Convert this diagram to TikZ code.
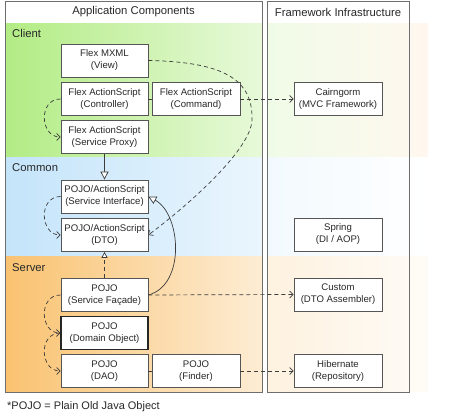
\documentclass[tikz,border=0pt]{standalone}
\usepackage{fontspec}
\setmainfont{Liberation Sans}
\usetikzlibrary{arrows.meta}
\definecolor{cgreen}{RGB}{178,236,132}
\definecolor{cblue}{RGB}{196,228,250}
\definecolor{corange}{RGB}{249,194,112}
\definecolor{boxgray}{RGB}{85,85,85}
\definecolor{panelgray}{RGB}{110,110,110}
\definecolor{txt}{RGB}{40,40,40}
\definecolor{linec}{RGB}{60,60,60}
\begin{document}
\begin{tikzpicture}[x=1pt,y=-1pt,
  box/.style={draw=boxgray, fill=white, line width=0.7pt, minimum width=87pt, minimum height=33pt,
    inner sep=0pt, align=center, font=\fontsize{9.6}{12}\selectfont, text=txt},
  bandlabel/.style={anchor=west, font=\fontsize{11.3}{13}\selectfont, text=txt, inner sep=0pt},
  header/.style={font=\fontsize{11.3}{13}\selectfont, text=txt, inner sep=0pt},
  dep/.style={draw=linec, line width=0.7pt, dash pattern=on 4pt off 3pt, -{Straight Barb[length=3.5pt,width=7pt]}},
  real/.style={draw=linec, line width=0.7pt, -{Triangle[open,length=8pt,width=8pt,fill=white]}},
  realdash/.style={draw=linec, line width=0.7pt, dash pattern=on 4pt off 3pt, -{Triangle[open,length=6pt,width=6pt,fill=white]}},
  link/.style={draw=linec, line width=0.7pt}]
\useasboundingbox (0,0) rectangle (474,419);
% bands: left panel part
\shade[left color=cgreen, right color=cgreen!30!white] (5,23) rectangle (263,158);
\shade[left color=cblue, right color=cblue!35!white] (5,158) rectangle (263,257);
\shade[left color=corange, right color=corange!30!white] (5,257) rectangle (263,392);
% bands: right part
\shade[left color=cgreen!20!white, right color=orange!6!white] (266,23) rectangle (428,158);
\shade[left color=cblue!22!white, right color=white] (266,158) rectangle (428,257);
\shade[left color=corange!22!white, right color=corange!6!white] (266,257) rectangle (428,392);
\fill[white] (0,0) rectangle (474,23);
\fill[white] (262.5,0) rectangle (266.5,392);
% panels
\draw[panelgray, line width=0.8pt] (5,1) rectangle (262,392);
\draw[panelgray, line width=0.8pt] (267,1) rectangle (409,392);
\node[header] (hApp) at (133.5,12) {Application Components};
\node[header] (hFw) at (338,12) {Framework Infrastructure};
\node[bandlabel] (lClient) at (12,33) {Client};
\node[bandlabel] (lCommon) at (12,168) {Common};
\node[bandlabel] (lServer) at (12,268) {Server};
% nodes
\node[box] (view) at (104.5,60.5) {Flex MXML\\(View)};
\node[box] (ctrl) at (104.5,99) {Flex ActionScript\\(Controller)};
\node[box, minimum width=88pt] (cmd) at (196,99) {Flex ActionScript\\(Command)};
\node[box] (proxy) at (104.5,137) {Flex ActionScript\\(Service Proxy)};
\node[box] (sif) at (104.5,196.5) {POJO/ActionScript\\(Service Interface)};
\node[box] (dto) at (104.5,235) {POJO/ActionScript\\(DTO)};
\node[box] (facade) at (104.5,295) {POJO\\(Service Façade)};
\node[box, line width=1.4pt, draw=black!85] (domain) at (104.5,333) {POJO\\(Domain Object)};
\node[box] (dao) at (104.5,371) {POJO\\(DAO)};
\node[box, minimum width=88pt] (finder) at (196,371) {POJO\\(Finder)};
\node[box, minimum width=88pt] (cairn) at (338,99) {Cairngorm\\(MVC Framework)};
\node[box, minimum width=88pt] (spring) at (338,234.5) {Spring\\(DI / AOP)};
\node[box, minimum width=88pt] (custom) at (338,294.5) {Custom\\(DTO Assembler)};
\node[box, minimum width=88pt] (hib) at (338,371) {Hibernate\\(Repository)};
% connectors
\draw[link] (ctrl.east) -- (cmd.west);
\draw[link] (dao.east) -- (finder.west);
\draw[dep] (cmd.east) -- (cairn.west);
\draw[dep] (facade.east) -- (custom.west);
\draw[dep] (finder.east) -- (hib.west);
\draw[dep] (ctrl.west) .. controls (38,99) and (40,137) .. (proxy.west);
\draw[dep] (sif.west) .. controls (38,196.5) and (40,235) .. (dto.west);
\draw[dep] (facade.west) .. controls (38,295) and (40,333) .. (domain.west);
\draw[dep] (domain.west) .. controls (38,333) and (40,371) .. (dao.west);
\draw[dep] (view.east) .. controls (225,62) and (253,80) .. (252,120) .. controls (251,148) and (195,200) .. (dto.east);
\draw[real] (proxy.south) -- (sif.north);
\draw[realdash] (facade.north) -- (dto.south);
\draw[real] (facade.east) .. controls (186,285) and (181,214) .. (sif.east);
\node[anchor=west, font=\fontsize{11}{13}\selectfont, text=txt, inner sep=0pt] (foot) at (7,407) {*POJO = Plain Old Java Object};
\end{tikzpicture}
\end{document}
